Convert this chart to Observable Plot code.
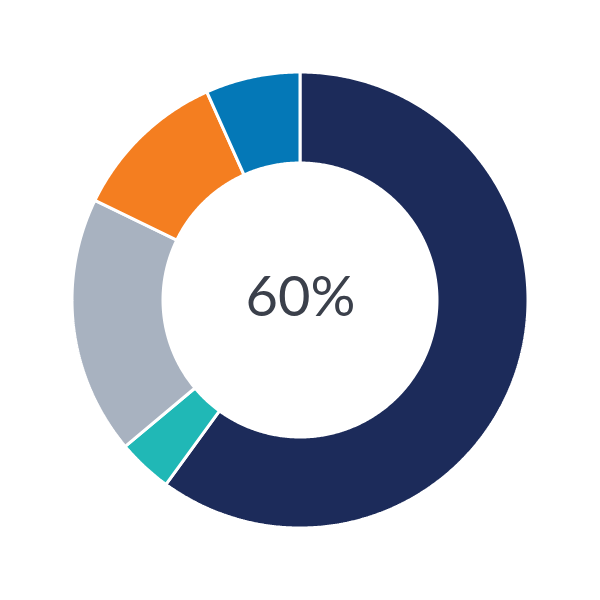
<!DOCTYPE html>
<html>
<head>
<meta charset="utf-8">
<script src="https://cdn.jsdelivr.net/npm/d3@7"></script>
<script src="https://cdn.jsdelivr.net/npm/@observablehq/plot@0.6"></script>
<style>
  html, body { margin: 0; padding: 0; background: #fff; }
</style>
</head>
<body>
<div id="chart"></div>
<script>
const categories = ["Segment 1", "Segment 2", "Segment 3", "Segment 4", "Segment 5"];
const values = [60, 3.9, 18.3, 11.1, 6.7];
const colors = ["#1c2b5a", "#20b8b6", "#a8b2c0", "#f47e20", "#0478b7"];
const centerLabel = "60%";

const outerR = 228, innerR = 137;
const pie = d3.pie().sort(null).value(d => d)(values);

// build annulus slice outlines (outer arc -> inner arc) from the pie angles
const rows = [];
pie.forEach((p, i) => {
  const n = Math.max(2, Math.ceil((p.endAngle - p.startAngle) / (Math.PI / 360)));
  for (let k = 0; k <= n; k++) {
    const a = p.startAngle + (p.endAngle - p.startAngle) * k / n;
    rows.push({
      name: categories[i],
      x1: outerR * Math.sin(a), y1: -outerR * Math.cos(a),
      x2: innerR * Math.sin(a), y2: -innerR * Math.cos(a)
    });
  }
});

const chart = Plot.plot({
  width: 600,
  height: 600,
  margin: 0,
  x: { domain: [-300, 300], range: [0, 600], axis: null },
  y: { domain: [-300, 300], range: [0, 600], axis: null },
  color: { type: "ordinal", domain: categories, range: colors },
  marks: [
    Plot.area(rows, {
      x1: "x1", y1: "y1", x2: "x2", y2: "y2",
      z: "name", fill: "name",
      stroke: "white", strokeWidth: 3, strokeLinejoin: "miter"
    }),
    Plot.text([centerLabel], {
      x: () => 0, y: () => -2, text: d => d,
      fontSize: 56, fontFamily: "Lato, 'Open Sans', sans-serif", fontWeight: 400,
      fill: "#3b404b", textAnchor: "middle", lineAnchor: "middle"
    })
  ]
});
document.getElementById("chart").appendChild(chart);
</script>
</body>
</html>
